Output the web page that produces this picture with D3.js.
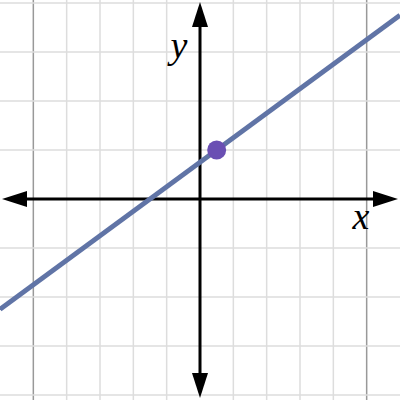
<!DOCTYPE html>
<html>
<head>
<meta charset="utf-8">
<script src="https://cdn.jsdelivr.net/npm/d3@7"></script>
<style>
  body { margin: 0; background: #fff; }
  svg { display: block; }
</style>
</head>
<body>
<script>
// grid ticks (units)
const xTicks = [-5, -4, -3, -2, -1, 1, 2, 3, 4, 5];
const yTicks = [-4, -3, -2, -1, 1, 2, 3, 4];
const majorX = [-5, 5];

// line y = m*x + b, and the marked point
const slope = [0.5];
const intercept = [0.75];
const pointX = [0.5];
const pointY = [1];

const width = 400, height = 400;

const svg = d3.select("body")
    .append("svg")
    .attr("width", width)
    .attr("height", height);

const x = d3.scaleLinear().domain([-6, 6]).range([0, width]);
const y = d3.scaleLinear().domain([-4, 4]).range([395, 3]);

// grid lines
svg.append("g")
    .selectAll("line")
    .data(xTicks)
    .join("line")
    .attr("x1", d => x(d)).attr("x2", d => x(d))
    .attr("y1", 0).attr("y2", height)
    .attr("stroke", d => majorX.includes(d) ? "#999" : "#ddd")
    .attr("stroke-width", 1.5);

svg.append("g")
    .selectAll("line")
    .data(yTicks)
    .join("line")
    .attr("y1", d => y(d)).attr("y2", d => y(d))
    .attr("x1", 0).attr("x2", width)
    .attr("stroke", "#ddd")
    .attr("stroke-width", 1.5);

// axes with arrow heads
const x0 = x(0), y0 = y(0);
const ah = 25, aw = 8;

svg.append("line")
    .attr("x1", 10).attr("x2", width - 10)
    .attr("y1", y0).attr("y2", y0)
    .attr("stroke", "#000").attr("stroke-width", 3);
svg.append("line")
    .attr("x1", x0).attr("x2", x0)
    .attr("y1", 10).attr("y2", height - 10)
    .attr("stroke", "#000").attr("stroke-width", 3);

const arrows = [
    [[2, y0], [2 + ah, y0 - aw], [2 + ah, y0 + aw]],
    [[width - 2, y0], [width - 2 - ah, y0 - aw], [width - 2 - ah, y0 + aw]],
    [[x0, 2], [x0 - aw, 2 + ah], [x0 + aw, 2 + ah]],
    [[x0, height - 2], [x0 - aw, height - 2 - ah], [x0 + aw, height - 2 - ah]]
];
svg.append("g")
    .selectAll("path")
    .data(arrows)
    .join("path")
    .attr("d", d => "M" + d.join("L") + "Z")
    .attr("fill", "#000");

// axis labels
svg.append("text")
    .attr("x", 361).attr("y", 229)
    .attr("text-anchor", "middle")
    .attr("font-family", "Liberation Serif, serif")
    .attr("font-style", "italic")
    .attr("font-size", 38)
    .text("x");
svg.append("text")
    .attr("x", 179).attr("y", 58)
    .attr("text-anchor", "middle")
    .attr("font-family", "Liberation Serif, serif")
    .attr("font-style", "italic")
    .attr("font-size", 38)
    .text("y");

// the line
const xs = x.domain();
svg.append("line")
    .attr("x1", x(xs[0])).attr("y1", y(slope[0] * xs[0] + intercept[0]))
    .attr("x2", x(xs[1])).attr("y2", y(slope[0] * xs[1] + intercept[0]))
    .attr("stroke", "#6074a6")
    .attr("stroke-width", 5);

// the point
svg.append("g")
    .selectAll("circle")
    .data(pointX.map((d, i) => [d, pointY[i]]))
    .join("circle")
    .attr("cx", d => x(d[0]))
    .attr("cy", d => y(d[1]))
    .attr("r", 9.5)
    .attr("fill", "#6a4fb3");
</script>
</body>
</html>
